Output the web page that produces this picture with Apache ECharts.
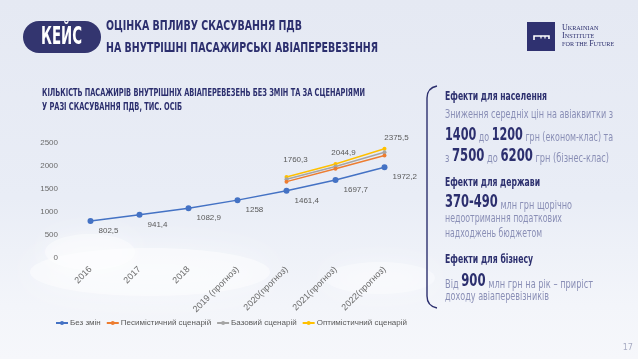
<!DOCTYPE html>
<html><head><meta charset="utf-8">
<script src="https://cdn.jsdelivr.net/npm/echarts@6.0.0/dist/echarts.min.js"></script>
<style>html,body{margin:0;padding:0;background:#eef1f8}#c{width:638px;height:359px;}</style>
</head><body><div id="c"></div>
<script>
// ---- data ----
const categories = ['2016','2017','2018','2019 (прогноз)','2020(прогноз)','2021(прогноз)','2022(прогноз)'];
const noChange    = [802.5, 941.4, 1082.9, 1258, 1461.4, 1697.7, 1972.2];
const pessimistic = [null, null, null, null, 1660, 1940, 2230];
const baseCase    = [null, null, null, null, 1710, 1990, 2300];
const optimistic  = [null, null, null, null, 1760.3, 2044.9, 2375.5];
const seriesNames = ['Без змін','Песимістичний сценарій','Базовий сценарій','Оптимістичний сценарій'];
const yMin = 0, yMax = 2500, yStep = 500;

// ---- styling ----
const colors = ['#4472C4','#ED7D31','#A5A5A5','#FFC000'];
const NAVY = '#2c2f6e', SOFT = '#8a8fb6';
const COND = "'Liberation Sans Narrow','DejaVu Sans Condensed',sans-serif";
const LIGHT = "'Liberation Sans Narrow','DejaVu Sans Condensed',sans-serif";
const CHARTFONT = "'Liberation Sans',Arial,sans-serif";
const optOffsets = [[0,0],[0,0],[0,0],[0,0],[9,-6],[8,0],[12,0]];
const fmt = v => String(v).replace('.', ',');

const mctx = document.createElement('canvas').getContext('2d');
function measure(font, t){ mctx.font = font; return mctx.measureText(t).width; }
function fitText(text, x, y, w, font, fill){
  const s = w / measure(font, text);
  return {type:'text', x, y, scaleX:s, style:{text, font, fill, textVerticalAlign:'middle', textAlign:'left'}};
}
function richLine(segs, x, y, w, styles){
  let total = 0; let txt = ''; const rich = {};
  for (const [k,t] of segs){
    const st = styles[k];
    total += measure(st.weight+' '+st.size+'px '+st.family, t);
    txt += '{'+k+'|'+t+'}';
    rich[k] = {fontSize:st.size, fontWeight:st.weight, fontFamily:st.family, fill:st.fill, color:st.fill, verticalAlign:'bottom', lineHeight: st.size+2};
  }
  return {type:'text', x, y, scaleX: w/total, style:{text:txt, rich, textVerticalAlign:'middle', textAlign:'left'}};
}
const rs = {
  b:{size:17, weight:'bold', family:COND, fill:NAVY},
  s:{size:12, weight:'normal', family:LIGHT, fill:SOFT}
};

const chart = echarts.init(document.getElementById('c'), null, {renderer:'canvas'});

const graphic = [
  {type:'rect', z:-10, shape:{x:0,y:0,width:638,height:359}, style:{fill:new echarts.graphic.LinearGradient(0,0,0,1,[{offset:0,color:'#e5e9f3'},{offset:0.55,color:'#e9edf6'},{offset:0.85,color:'#f3f5fa'},{offset:1,color:'#f6f7fb'}])}},
  {type:'ellipse', z:-9, shape:{cx:150,cy:272,rx:120,ry:24}, style:{fill:'rgba(255,255,255,0.45)', shadowBlur:30, shadowColor:'rgba(255,255,255,0.9)'}},
  {type:'ellipse', z:-9, shape:{cx:90,cy:252,rx:45,ry:18}, style:{fill:'rgba(255,255,255,0.4)', shadowBlur:25, shadowColor:'rgba(255,255,255,0.9)'}},
  {type:'ellipse', z:-9, shape:{cx:380,cy:278,rx:55,ry:16}, style:{fill:'rgba(255,255,255,0.35)', shadowBlur:25, shadowColor:'rgba(255,255,255,0.9)'}},
  // header pill
  {type:'rect', shape:{x:23,y:21,width:78,height:32,r:16}, style:{fill:'#33356f'}},
  fitText('КЕЙС', 41, 37.5, 41, 'bold 24px '+COND, '#ffffff'),
  fitText('ОЦІНКА ВПЛИВУ СКАСУВАННЯ ПДВ', 106, 26, 196, 'bold 14px '+COND, NAVY),
  fitText('НА ВНУТРІШНІ ПАСАЖИРСЬКІ АВІАПЕРЕВЕЗЕННЯ', 106, 48, 272, 'bold 14px '+COND, NAVY),
  // logo
  {type:'rect', shape:{x:527,y:22,width:28,height:29}, style:{fill:'#2f3170'}},
  {type:'polyline', shape:{points:[[534,40],[534,36],[549,36],[549,39]]}, style:{stroke:'#fff', lineWidth:1.6, fill:null}},
  {type:'line', shape:{x1:541,y1:36,x2:541,y2:38.5}, style:{stroke:'#fff', lineWidth:1.2}},
  {type:'line', shape:{x1:545,y1:36,x2:545,y2:38.5}, style:{stroke:'#fff', lineWidth:1.2}},
  {type:'text', x:562, y:28, style:{text:'{a|U}{b|KRAINIAN}', rich:{a:{fontSize:8, fontFamily:'Liberation Serif', fill:NAVY, color:NAVY}, b:{fontSize:6.2, fontFamily:'Liberation Serif', fill:NAVY, color:NAVY}}, textVerticalAlign:'middle'}},
  {type:'text', x:562, y:36, style:{text:'{a|I}{b|NSTITUTE}', rich:{a:{fontSize:8, fontFamily:'Liberation Serif', fill:NAVY, color:NAVY}, b:{fontSize:6.2, fontFamily:'Liberation Serif', fill:NAVY, color:NAVY}}, textVerticalAlign:'middle'}},
  {type:'text', x:562, y:44, style:{text:'{b|FOR THE }{a|F}{b|UTURE}', rich:{a:{fontSize:8, fontFamily:'Liberation Serif', fill:NAVY, color:NAVY}, b:{fontSize:6.2, fontFamily:'Liberation Serif', fill:NAVY, color:NAVY}}, textVerticalAlign:'middle'}},
  // chart subtitle
  fitText('КІЛЬКІСТЬ ПАСАЖИРІВ ВНУТРІШНІХ АВІАПЕРЕВЕЗЕНЬ БЕЗ ЗМІН ТА ЗА СЦЕНАРІЯМИ', 42, 93, 323, 'bold 11px '+COND, NAVY),
  fitText('У РАЗІ СКАСУВАННЯ ПДВ, ТИС. ОСІБ', 42, 107, 140, 'bold 11px '+COND, NAVY),
  // bracket
  {type:'bezierCurve', shape:{x1:437,y1:86,cpx1:427,cpy1:88,x2:427,y2:98}, style:{stroke:NAVY, lineWidth:1.4, fill:null}},
  {type:'line', shape:{x1:427,y1:98,x2:427,y2:296}, style:{stroke:NAVY, lineWidth:1.4}},
  {type:'bezierCurve', shape:{x1:427,y1:296,cpx1:427,cpy1:306,x2:437,y2:308}, style:{stroke:NAVY, lineWidth:1.4, fill:null}},
  // right panel
  fitText('Ефекти для населення', 445, 97, 102, 'bold 11.5px '+COND, NAVY),
  fitText('Зниження середніх цін на авіаквитки з', 445, 114.5, 168, '12px '+LIGHT, SOFT),
  richLine([['b','1400'],['s',' до '],['b','1200'],['s',' грн (економ-клас) та']], 445, 134.5, 168, rs),
  richLine([['s','з '],['b','7500'],['s',' до '],['b','6200'],['s',' грн (бізнес-клас)']], 445, 155.5, 164, rs),
  fitText('Ефекти для держави', 445, 183, 95, 'bold 11.5px '+COND, NAVY),
  richLine([['b','370-490'],['s',' млн грн щорічно']], 445, 202, 127, rs),
  fitText('недоотримання податкових', 445, 219, 117, '12px '+LIGHT, SOFT),
  fitText('надходжень бюджетом', 445, 234, 97, '12px '+LIGHT, SOFT),
  fitText('Ефекти для бізнесу', 445, 260, 88, 'bold 11.5px '+COND, NAVY),
  richLine([['s','Від '],['b','900'],['s',' млн грн на рік – приріст']], 445, 281, 148, rs),
  fitText('доходу авіаперевізників', 445, 297, 104, '12px '+LIGHT, SOFT),
  {type:'text', x:633, y:348, style:{text:'17', font:'9px '+COND, fill:'#a9adc4', textAlign:'right', textVerticalAlign:'middle'}}
];

function lineSeries(i, data, extra){
  return Object.assign({
    name: seriesNames[i], type:'line', data, connectNulls:false,
    symbol:'circle', symbolSize: i===0 ? 6 : 4,
    itemStyle:{color:colors[i]}, lineStyle:{color:colors[i], width:1.5},
    z: 10 - i
  }, extra||{});
}

chart.setOption({
  animation:false,
  textStyle:{fontFamily:CHARTFONT},
  graphic,
  grid:{left:66, right:229, top:143, bottom:101, containLabel:false},
  xAxis:{type:'category', data:categories, boundaryGap:true,
    axisLine:{show:false}, axisTick:{show:false},
    axisLabel:{interval:0, rotate:45, fontSize:9, color:'#6b6b6b', margin:10}},
  yAxis:{type:'value', min:yMin, max:yMax, interval:yStep,
    axisLine:{show:false}, axisTick:{show:false}, splitLine:{show:false},
    axisLabel:{fontSize:8, color:'#6b6b6b', margin:8, formatter:v=>String(v)}},
  legend:{left:50, top:314, itemWidth:12, itemHeight:5, itemGap:5,
    textStyle:{fontSize:8, color:'#595959', padding:[0,0,0,-3]},
    data: seriesNames},
  series:[
    lineSeries(0, noChange, {label:{show:true, position:'right', distance:5, offset:[0,10], fontSize:8, color:'#595959', formatter:p=>fmt(p.value)}}),
    lineSeries(1, pessimistic),
    lineSeries(2, baseCase),
    lineSeries(3, optimistic.map((v,i)=>({value:v, label:{offset:optOffsets[i]}})),
      {label:{show:true, position:'top', distance:5, fontSize:8, color:'#595959', formatter:p=>fmt(p.value)}})
  ]
});
</script></body></html>
